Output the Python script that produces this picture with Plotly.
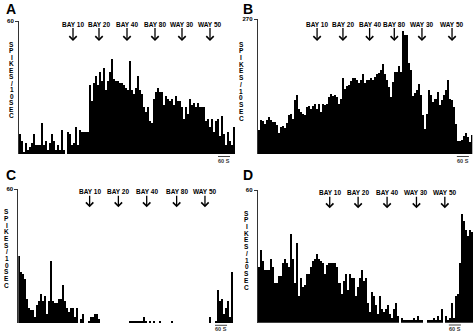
import plotly.graph_objects as go

W, H = 474, 333
FONT = "Liberation Sans, Arial, sans-serif"

# Spike counts per 10-s bin for the four recordings
counts_a = [9, 6, 1, 5, 2, 3, 5, 9, 4, 4,
            4, 14, 4, 6, 2, 5, 9, 6, 2, 4,
            2, 11, 2, 0, 10, 9, 4, 5, 12, 4,
            11, 10, 10, 10, 10, 31, 24, 32, 35, 31,
            37, 33, 39, 29, 33, 37, 43, 34, 33, 33,
            32, 32, 31, 30, 29, 42, 29, 27, 30, 35,
            29, 27, 21, 19, 21, 15, 14, 25, 28, 30,
            28, 28, 22, 26, 25, 24, 25, 22, 26, 24,
            24, 21, 16, 21, 18, 25, 22, 23, 21, 23,
            21, 21, 21, 15, 16, 12, 16, 10, 15, 16,
            8, 17, 9, 4, 10, 6, 4, 12]

counts_b = [48, 69, 67, 61, 69, 75, 68, 65, 65, 58,
            43, 55, 56, 53, 63, 78, 81, 71, 108, 118,
            91, 85, 81, 78, 95, 96, 91, 96, 101, 91,
            101, 85, 100, 98, 101, 115, 121, 117, 119, 115,
            101, 111, 153, 131, 136, 138, 147, 153, 153, 148,
            143, 148, 160, 143, 148, 149, 153, 148, 155, 160,
            163, 168, 180, 160, 149, 135, 115, 145, 165, 165,
            176, 165, 246, 239, 239, 183, 168, 116, 123, 128,
            141, 118, 78, 51, 81, 128, 119, 105, 110, 125,
            98, 108, 119, 128, 148, 110, 108, 95, 61, 26,
            27, 29, 36, 43, 35, 25, 39]

counts_c = [30, 23, 22, 20, 11, 7, 6, 6, 3, 8,
            10, 13, 10, 12, 4, 10, 28, 10, 9, 9,
            11, 11, 17, 10, 7, 5, 7, 7, 3, 7,
            0, 2, 4, 0, 0, 1, 3, 3, 4, 4,
            2, 0, 0, 0, 0, 0, 0, 0, 0, 0,
            0, 0, 0, 0, 0, 1, 1, 1, 1, 1,
            1, 1, 3, 1, 0, 1, 0, 1, 0, 0,
            1, 0, 0, 0, 0, 0, 1, 0, 0, 0,
            0, 0, 0, 0, 0, 0, 0, 0, 0, 0,
            0, 0, 0, 0, 0, 3, 0, 0, 1, 15,
            10, 11, 4, 7, 10, 3, 23]

counts_d = [25, 33, 28, 24, 24, 24, 29, 25, 18, 18,
            21, 21, 27, 29, 27, 25, 40, 29, 18, 36,
            12, 20, 16, 17, 22, 22, 25, 28, 29, 31,
            29, 28, 27, 22, 26, 27, 27, 27, 27, 25,
            18, 13, 19, 22, 15, 22, 20, 20, 12, 16,
            20, 24, 19, 20, 9, 5, 14, 12, 8, 4,
            12, 6, 5, 6, 8, 4, 2, 6, 9, 3,
            0, 2, 1, 1, 1, 1, 1, 2, 1, 3,
            1, 1, 0, 0, 1, 1, 1, 2, 1, 3,
            1, 6, 0, 3, 1, 2, 9, 2, 12, 13,
            27, 49, 46, 42, 39, 42, 41]

# Drug applications (label, bin index at which it starts)
drugs_a = ["BAY 10", "BAY 20", "BAY 40", "BAY 80", "WAY 30", "WAY 50"]
onsets_a = [26.5, 39.5, 53.5, 67.5, 81, 95]
drugs_b = ["BAY 10", "BAY 20", "BAY 40", "BAY 80", "WAY 30", "WAY 50"]
onsets_b = [29.1, 42, 55.3, 67.6, 81.4, 96.4]
drugs_c = ["BAY 10", "BAY 20", "BAY 40", "BAY 80", "WAY 50"]
onsets_c = [35, 49.3, 63.4, 78.3, 92.4]
drugs_d = ["BAY 10", "BAY 20", "BAY 40", "WAY 30", "WAY 50"]
onsets_d = [35.3, 49.4, 63.8, 78.4, 92.5]

panel_letters = ["A", "B", "C", "D"]
y_max = [60, 270, 60, 60]
y_title = "SPIKES/10SEC"
scale_text = "60 S"
scale_bins = 6  # 60 s = six 10-s bins

panels = [
    # plot box in pixels: left, right, top, bottom; letter pos; title x, title y0, y1; arrow tip / label rows; scale bar
    dict(counts=counts_a, drugs=drugs_a, onsets=onsets_a,
         box=(19, 235, 21, 154), letter=(10.5, 9.5), tx=11.7, ty=(44, 116),
         tip_px=41, text_px=24, sb_x0=99, sb_y=156.5, sb_ty=160.5),
    dict(counts=counts_b, drugs=drugs_b, onsets=onsets_b,
         box=(257.7, 472.3, 19, 154), letter=(247.5, 9.5), tx=241, ty=(44, 118),
         tip_px=41, text_px=24, sb_x0=98.8, sb_y=156.5, sb_ty=160.5),
    dict(counts=counts_c, drugs=drugs_c, onsets=onsets_c,
         box=(18.3, 233.3, 189, 323.3), letter=(10.5, 175), tx=6.7, ty=(211.7, 285),
         tip_px=207.3, text_px=191.7, sb_x0=97.4, sb_y=325.3, sb_ty=329),
    dict(counts=counts_d, drugs=drugs_d, onsets=onsets_d,
         box=(257.7, 473, 190, 322.7), letter=(248, 175), tx=247, ty=(213, 287),
         tip_px=208.3, text_px=192.7, sb_x0=94.5, sb_y=325, sb_ty=329),
]


def px_x(p):
    return p / W


def px_y(p):
    return 1 - p / H


fig = go.Figure()
layout = dict(width=W, height=H,
              margin=dict(l=0, r=0, t=0, b=0, pad=0, autoexpand=False),
              template="none",
              paper_bgcolor="white", plot_bgcolor="white",
              showlegend=False, bargap=0, font=dict(family=FONT, color="black"))
annotations = []
shapes = []

for i, p in enumerate(panels):
    k = "" if i == 0 else str(i + 1)
    xa, ya = "x" + k, "y" + k
    left, right, top, bottom = p["box"]
    n = len(p["counts"])
    fig.add_trace(go.Bar(x=list(range(n)), y=p["counts"], xaxis=xa, yaxis=ya,
                         width=1, marker=dict(color="black", line=dict(width=0)),
                         hoverinfo="skip"))
    layout["xaxis" + k] = dict(domain=[px_x(left), px_x(right)], range=[-0.5, n - 0.5],
                               visible=False, anchor=ya, fixedrange=True, automargin=False)
    layout["yaxis" + k] = dict(domain=[px_y(bottom), px_y(top)], range=[0, y_max[i]],
                               anchor=xa, showgrid=False, zeroline=False, automargin=False,
                               showline=True, linecolor="#333", linewidth=1,
                               tickvals=[y_max[i]], ticktext=[f"<b>{y_max[i]}</b>"],
                               ticks="outside", ticklen=3, tickwidth=1, tickcolor="#333",
                               tickfont=dict(size=6, family=FONT, color="black"),
                               fixedrange=True)

    # panel letter
    lx, ly = p["letter"]
    annotations.append(dict(text=f"<b>{panel_letters[i]}</b>", x=px_x(lx), y=px_y(ly),
                            xref="paper", yref="paper", xanchor="center", yanchor="middle",
                            showarrow=False, borderpad=0,
                            font=dict(size=14, family=FONT, color="black")))

    # stacked vertical axis title
    y0, y1 = p["ty"]
    step = (y1 - y0) / (len(y_title) - 1)
    for j, ch in enumerate(y_title):
        annotations.append(dict(text=f"<b>{ch}</b>", x=px_x(p["tx"]), y=px_y(y0 + j * step),
                                xref="paper", yref="paper", xanchor="center", yanchor="middle",
                                showarrow=False, borderpad=0,
                                font=dict(size=6.5, family=FONT, color="black")))

    # drug application arrows
    h = bottom - top
    tip = (bottom - p["tip_px"]) / h
    ay = -(p["tip_px"] - p["text_px"])
    for lab, b in zip(p["drugs"], p["onsets"]):
        annotations.append(dict(text=f"<b>{lab}</b>", x=b, y=tip, xref=xa, yref=ya + " domain",
                                showarrow=True, ax=0, ay=ay, arrowhead=4, arrowsize=1.1,
                                arrowwidth=1.3, arrowcolor="black", standoff=0, borderpad=0,
                                font=dict(size=6.5, family=FONT, color="black")))

    # 60-s scale bar
    sb0 = p["sb_x0"]
    shapes.append(dict(type="line", xref=xa, yref="paper", x0=sb0, x1=sb0 + scale_bins,
                       y0=px_y(p["sb_y"]), y1=px_y(p["sb_y"]),
                       line=dict(color="#444", width=1)))
    annotations.append(dict(text=f"<b>{scale_text}</b>", x=sb0 + scale_bins / 2,
                            y=px_y(p["sb_ty"]), xref=xa, yref="paper",
                            xanchor="center", yanchor="middle", showarrow=False, borderpad=0,
                            font=dict(size=5.5, family=FONT, color="#333")))

layout["annotations"] = annotations
layout["shapes"] = shapes
fig.update_layout(**layout)
fig.write_html("out.html")
